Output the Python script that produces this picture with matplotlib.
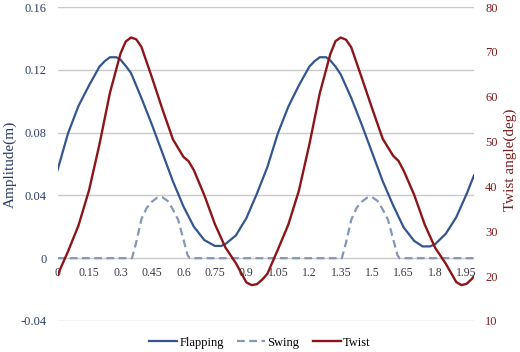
import matplotlib
matplotlib.use("Agg")
import matplotlib.pyplot as plt

plt.rcParams['font.family'] = ['Liberation Serif', 'DejaVu Serif']

# === Données ===
flap_x = [0.00, 0.05, 0.10, 0.15, 0.20, 0.225, 0.25, 0.28, 0.30, 0.325, 0.35, 0.40, 0.45, 0.50,
          0.55, 0.60, 0.65, 0.70, 0.75, 0.78, 0.80, 0.85, 0.90, 0.95,
          1.00, 1.05, 1.10, 1.15, 1.20, 1.225, 1.25, 1.28, 1.30, 1.325, 1.35, 1.40, 1.45, 1.50,
          1.55, 1.60, 1.65, 1.70, 1.74, 1.775, 1.80, 1.85, 1.90, 1.95, 1.985]
flapping = [0.056, 0.0795, 0.097, 0.110, 0.122, 0.1255, 0.128, 0.128, 0.1265, 0.1225, 0.118, 0.102, 0.085, 0.067,
            0.049, 0.033, 0.020, 0.0115, 0.0078, 0.0078, 0.009, 0.0145, 0.0255, 0.041,
            0.058, 0.0795, 0.0965, 0.110, 0.122, 0.1255, 0.128, 0.128, 0.126, 0.122, 0.117, 0.102, 0.085, 0.067,
            0.049, 0.0335, 0.0195, 0.011, 0.0075, 0.0075, 0.009, 0.0155, 0.026, 0.041, 0.0528]

swing_x = [0.00, 0.355, 0.375, 0.40, 0.425, 0.45, 0.475, 0.50, 0.525, 0.55, 0.575, 0.60, 0.62, 0.63,
           1.355, 1.375, 1.40, 1.425, 1.45, 1.475, 1.50, 1.525, 1.55, 1.575, 1.60, 1.62, 1.63, 1.985]
swing = [0, 0, 0.010, 0.025, 0.032, 0.036, 0.0385, 0.0388, 0.0365, 0.031, 0.0245, 0.012, 0.002, 0,
         0, 0.010, 0.0245, 0.032, 0.036, 0.0385, 0.0388, 0.0365, 0.031, 0.0245, 0.012, 0.002, 0, 0]

twist_x = [0.00, 0.05, 0.10, 0.15, 0.20, 0.25, 0.30, 0.325, 0.35, 0.375, 0.40, 0.45, 0.50,
           0.55, 0.60, 0.625, 0.65, 0.70, 0.75, 0.80, 0.85, 0.90, 0.925, 0.95, 0.975,
           1.00, 1.05, 1.10, 1.15, 1.20, 1.25, 1.30, 1.325, 1.35, 1.375, 1.40, 1.45, 1.50,
           1.55, 1.60, 1.625, 1.65, 1.70, 1.75, 1.80, 1.85, 1.90, 1.925, 1.95, 1.975, 1.985]
twist = [20.2, 25.5, 31.3, 39.1, 49.4, 60.9, 69.6, 72.3, 73.2, 72.8, 71.1, 64.3, 57.2,
         50.5, 46.6, 45.6, 43.6, 38.0, 31.6, 26.4, 22.9, 18.6, 18.0, 18.2, 19.2,
         20.5, 25.9, 31.5, 39.0, 49.3, 60.8, 69.5, 72.4, 73.2, 72.7, 71.0, 64.2, 57.3,
         50.6, 46.8, 45.7, 43.5, 38.1, 31.5, 26.3, 22.8, 18.7, 18.0, 18.3, 19.4, 20.0]

x_ticks = [0, 0.15, 0.3, 0.45, 0.6, 0.75, 0.9, 1.05, 1.2, 1.35, 1.5, 1.65, 1.8, 1.95]
x_labels = ['0', '0.15', '0.3', '0.45', '0.6', '0.75', '0.9', '1.05', '1.2', '1.35', '1.5', '1.65', '1.8', '1.95']
amp_ticks = [-0.04, 0, 0.04, 0.08, 0.12, 0.16]
amp_labels = ['-0.04', '0', '0.04', '0.08', '0.12', '0.16']
ang_ticks = [10, 20, 30, 40, 50, 60, 70, 80]

c_flap = '#34558f'
c_swing = '#8497b6'
c_twist = '#8c1518'
c_left = '#2b3d6b'
c_right = '#7e1d1d'
c_grid = '#c9c9c9'

fig = plt.figure(figsize=(5.2, 3.52), dpi=100)
ax1 = fig.add_axes([0.1106, 0.0881, 0.8010, 0.8920])
ax2 = ax1.twinx()

# grille horizontale
for t in amp_ticks:
    ax1.axhline(t, color=c_grid, linewidth=1.0, zorder=0)

l1, = ax1.plot(flap_x, flapping, color=c_flap, linewidth=1.6, label='Flapping', zorder=3)
l2, = ax1.plot(swing_x, swing, color=c_swing, linewidth=1.6, dashes=(3.5, 2.0), label='Swing', zorder=3)
l3, = ax2.plot(twist_x, twist, color=c_twist, linewidth=1.7, label='Twist')

# l'axe secondaire doit être dessiné par-dessus
ax2.set_zorder(ax1.get_zorder() + 1)
ax2.patch.set_visible(False)

ax1.set_xlim(0, 1.985)
ax1.set_ylim(-0.04, 0.16)
ax2.set_ylim(10, 80)

ax1.set_yticks(amp_ticks)
ax1.set_yticklabels(amp_labels)
ax2.set_yticks(ang_ticks)

ax1.set_xticks(x_ticks)
ax1.set_xticklabels(x_labels)

for ax in [ax1, ax2]:
    for s in ax.spines.values():
        s.set_visible(False)

ax1.spines['bottom'].set_position(('data', 0))
ax1.tick_params(axis='x', length=0, pad=6, labelsize=8.5, labelcolor='#3a3a48')
ax1.tick_params(axis='y', length=0, pad=8, labelsize=9, labelcolor=c_left)
ax2.tick_params(axis='y', length=0, pad=8, labelsize=9, labelcolor=c_right)

fig.text(0.020, 0.534, 'Amplitude(m)', rotation=90, ha='center', va='center',
         fontsize=11, color=c_left)
fig.text(0.981, 0.545, 'Twist angle(deg)', rotation=90, ha='center', va='center',
         fontsize=11, color=c_right)

fig.legend(handles=[l1, l2, l3], loc='center', bbox_to_anchor=(0.5, 0.026), ncol=3,
           frameon=False, fontsize=9, handlelength=2.2, handletextpad=0.2,
           columnspacing=1.1)

plt.savefig('out.png', dpi=100)
plt.close()
